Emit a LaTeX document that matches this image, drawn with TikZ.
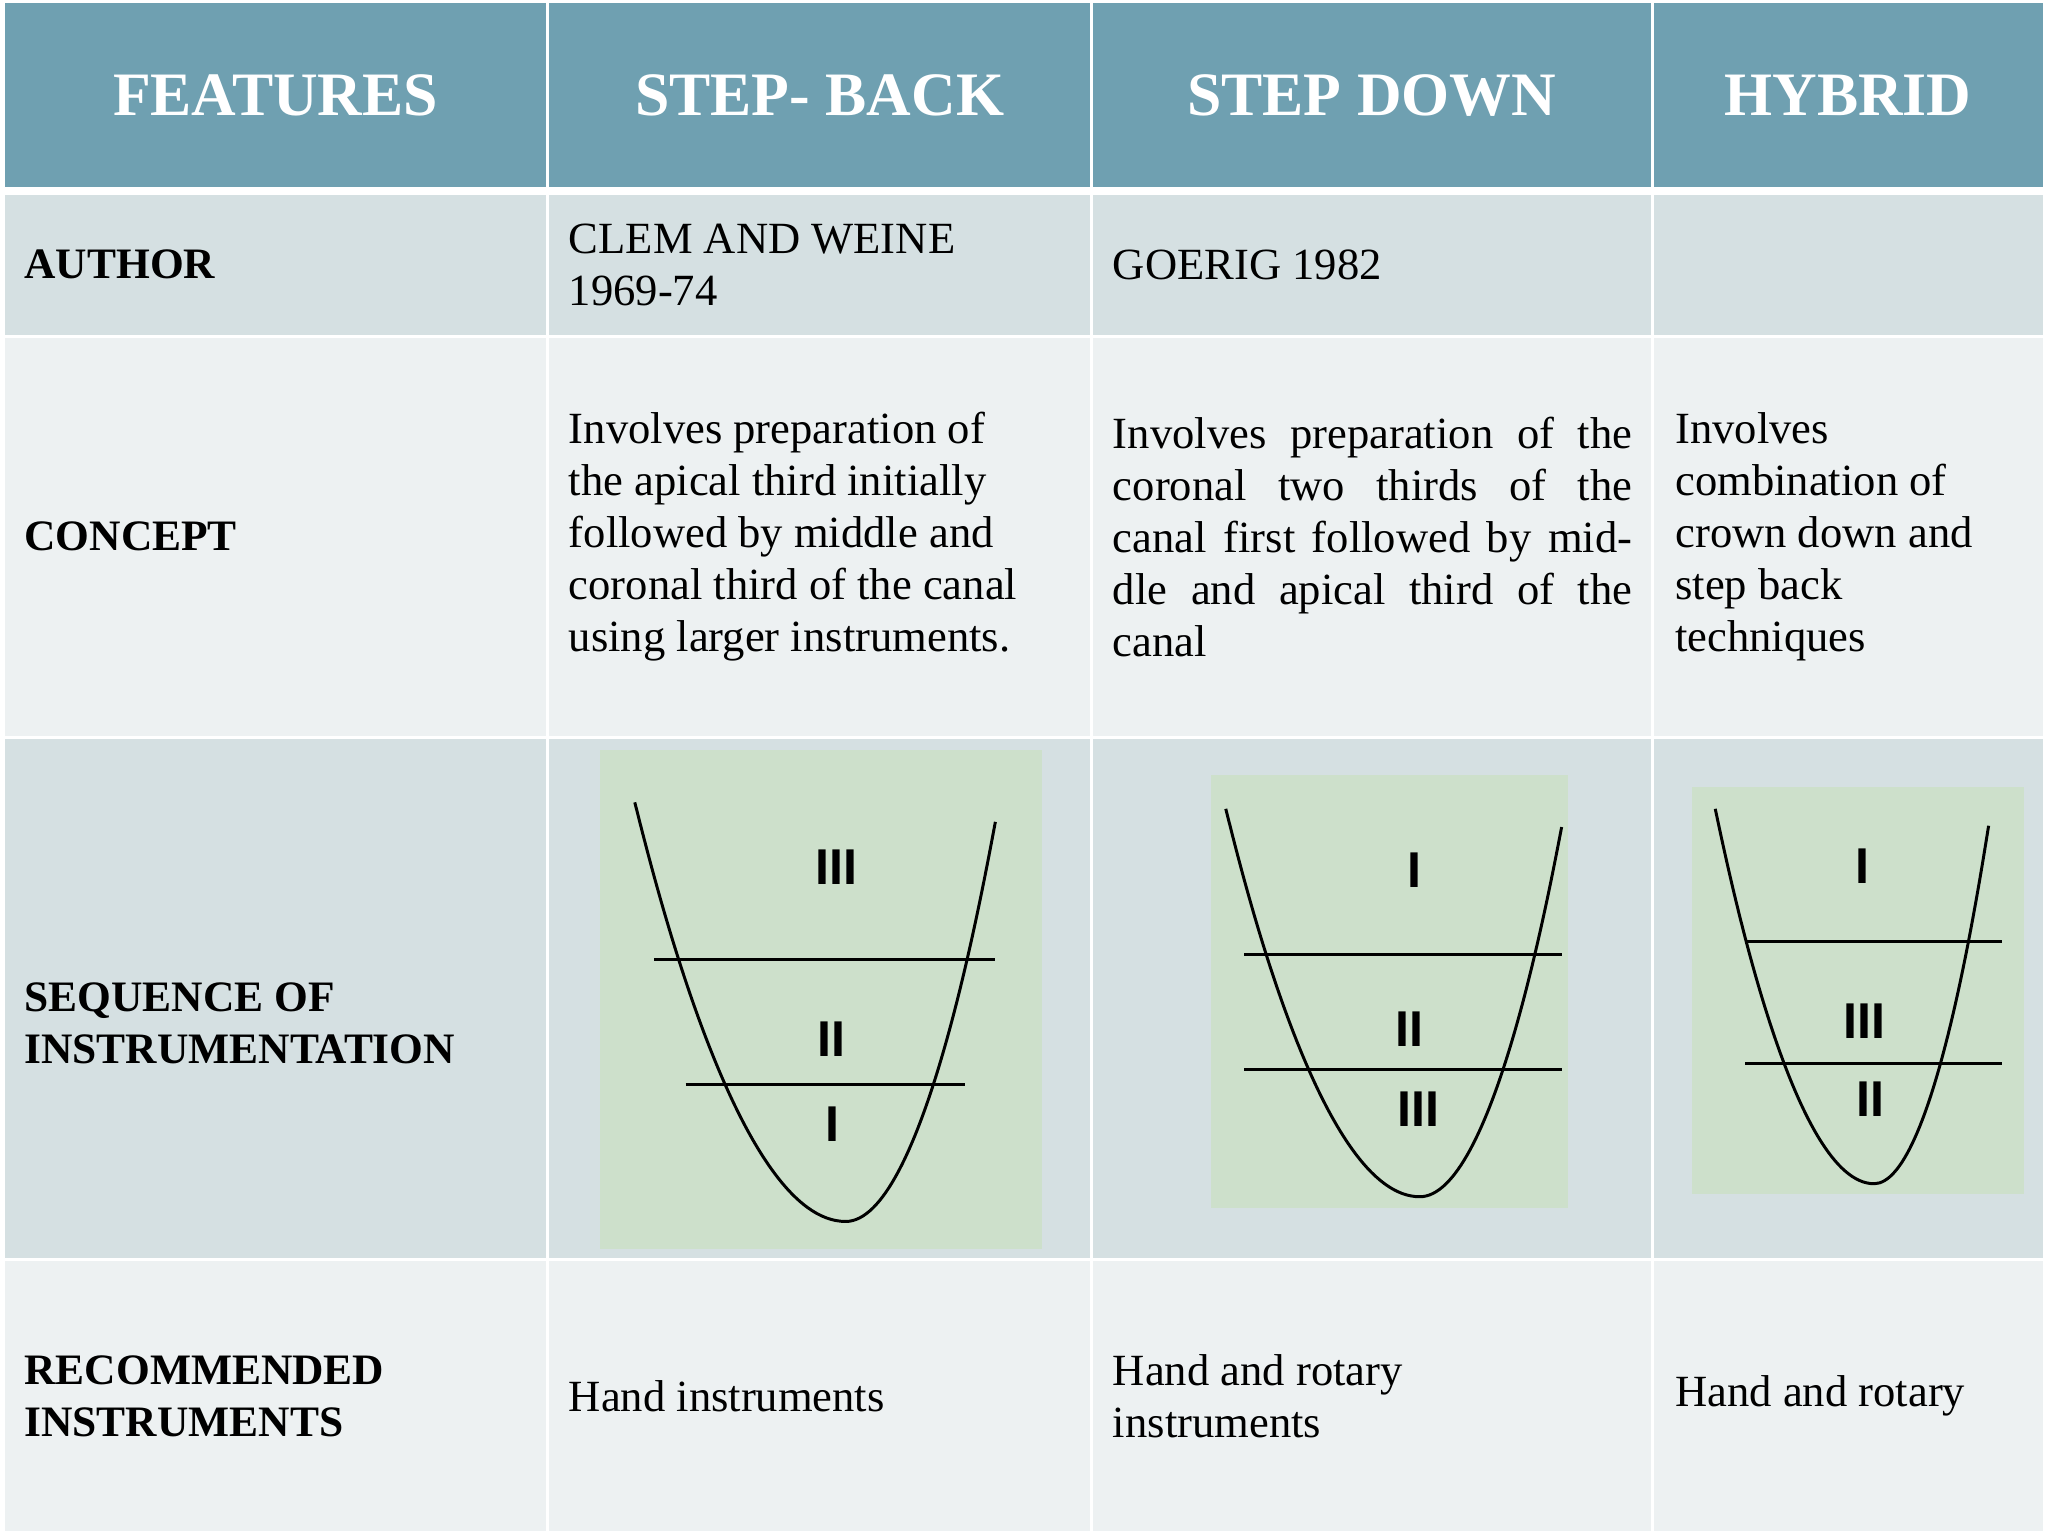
\documentclass[tikz,border=0pt]{standalone}
\usepackage{fontspec}
\setmainfont{Liberation Serif}
\setsansfont{Liberation Sans}
\definecolor{headblue}{HTML}{6FA0B1}
\definecolor{rowdark}{HTML}{D5E0E2}
\definecolor{rowlight}{HTML}{EDF1F2}
\definecolor{canalgreen}{HTML}{CDE0CB}
\tikzset{
  cell/.style={draw=white, line width=1.5pt},
  head/.style={text=white, font=\fontsize{27}{31}\selectfont\bfseries},
  lab/.style={anchor=west, align=left, font=\fontsize{19}{22.7}\selectfont\bfseries},
  txt/.style={anchor=west, align=left, font=\fontsize{19.5}{22.7}\selectfont, inner sep=0pt},
  roman/.style={font=\sffamily\bfseries\fontsize{22}{24}\selectfont},
  canal/.style={line width=1.3pt},
}
\begin{document}
\begin{tikzpicture}[x=0.02cm, y=-0.02cm]
    % --- background and cells ---
    \fill[white] (0,0) rectangle (1568,1176);
    \foreach \xa/\xb in {0/418, 418/836, 836/1267, 1267/1568} {
        \fill[cell, fill=headblue] (\xa,0) rectangle (\xb,145);
        \fill[cell, fill=rowdark] (\xa,147) rectangle (\xb,257);
        \fill[cell, fill=rowlight] (\xa,257) rectangle (\xb,565);
        \fill[cell, fill=rowdark] (\xa,565) rectangle (\xb,966);
        \fill[cell, fill=rowlight] (\xa,966) rectangle (\xb,1176);
    }
    \draw[white, line width=3pt] (0,145) -- (1568,145);

    % --- header ---
    \node[head] (hfeat) at (209,72) {FEATURES};
    \node[head] (hback) at (627,72) {STEP- BACK};
    \node[head] (hdown) at (1051,72) {STEP DOWN};
    \node[head] (hhyb) at (1417,72) {HYBRID};

    % --- row labels ---
    \node[lab] (lauth) at (10,202) {AUTHOR};
    \node[lab] (lconc) at (10,411) {CONCEPT};
    \node[lab] (lseq) at (10,785) {SEQUENCE OF\\INSTRUMENTATION};
    \node[lab] (lrec) at (10,1071) {RECOMMENDED\\INSTRUMENTS};

    % --- author row ---
    \node[txt] (aback) at (434,202) {CLEM AND WEINE\\1969-74};
    \node[txt] (adown) at (852,202) {GOERIG 1982};

    % --- concept row ---
    \node[txt] (cback) at (434,411) {Involves preparation of\\the apical third initially\\followed by middle and\\coronal third of the canal\\using larger instruments.};
    \node[txt, text width=398\pgflinewidth, align=justify, text width=7.98cm] (cdown) at (852,411) {Involves preparation of the coronal two thirds of the canal first followed by middle and apical third of the canal};
    \node[txt] (chyb) at (1284,411) {Involves\\combination of\\crown down and\\step back\\techniques};

    % --- recommended row ---
    \node[txt] (rback) at (434,1071) {Hand instruments};
    \node[txt] (rdown) at (852,1071) {Hand and rotary\\instruments};
    \node[txt] (rhyb) at (1284,1071) {Hand and rotary};

    % --- step-back canal ---
    \fill[canalgreen] (458,575) rectangle (798,958);
    \draw[canal] (485,615) parabola bend (647,937) (762,630);
    \draw[canal] (500,736) -- (762,736);
    \draw[canal] (524,832) -- (739,832);
    \node[roman] (sb3) at (640,665) {III};
    \node[roman] (sb2) at (636,797) {II};
    \node[roman] (sb1) at (637,862) {I};

    % --- step-down canal ---
    \fill[canalgreen] (928,594) rectangle (1202,927);
    \draw[canal] (939,620) parabola bend (1088,918) (1197,634);
    \draw[canal] (953,732) -- (1197,732);
    \draw[canal] (953,820) -- (1197,820);
    \node[roman] (sd1) at (1084,667) {I};
    \node[roman] (sd2) at (1080,789) {II};
    \node[roman] (sd3) at (1087,851) {III};

    % --- hybrid canal ---
    \fill[canalgreen] (1297,603) rectangle (1552,916);
    \draw[canal] (1315,620) parabola bend (1437,908) (1525,633);
    \draw[canal] (1338,722) -- (1535,722);
    \draw[canal] (1338,816) -- (1535,816);
    \node[roman] (hy1) at (1428,664) {I};
    \node[roman] (hy3) at (1430,783) {III};
    \node[roman] (hy2) at (1434,843) {II};
\end{tikzpicture}
\end{document}
